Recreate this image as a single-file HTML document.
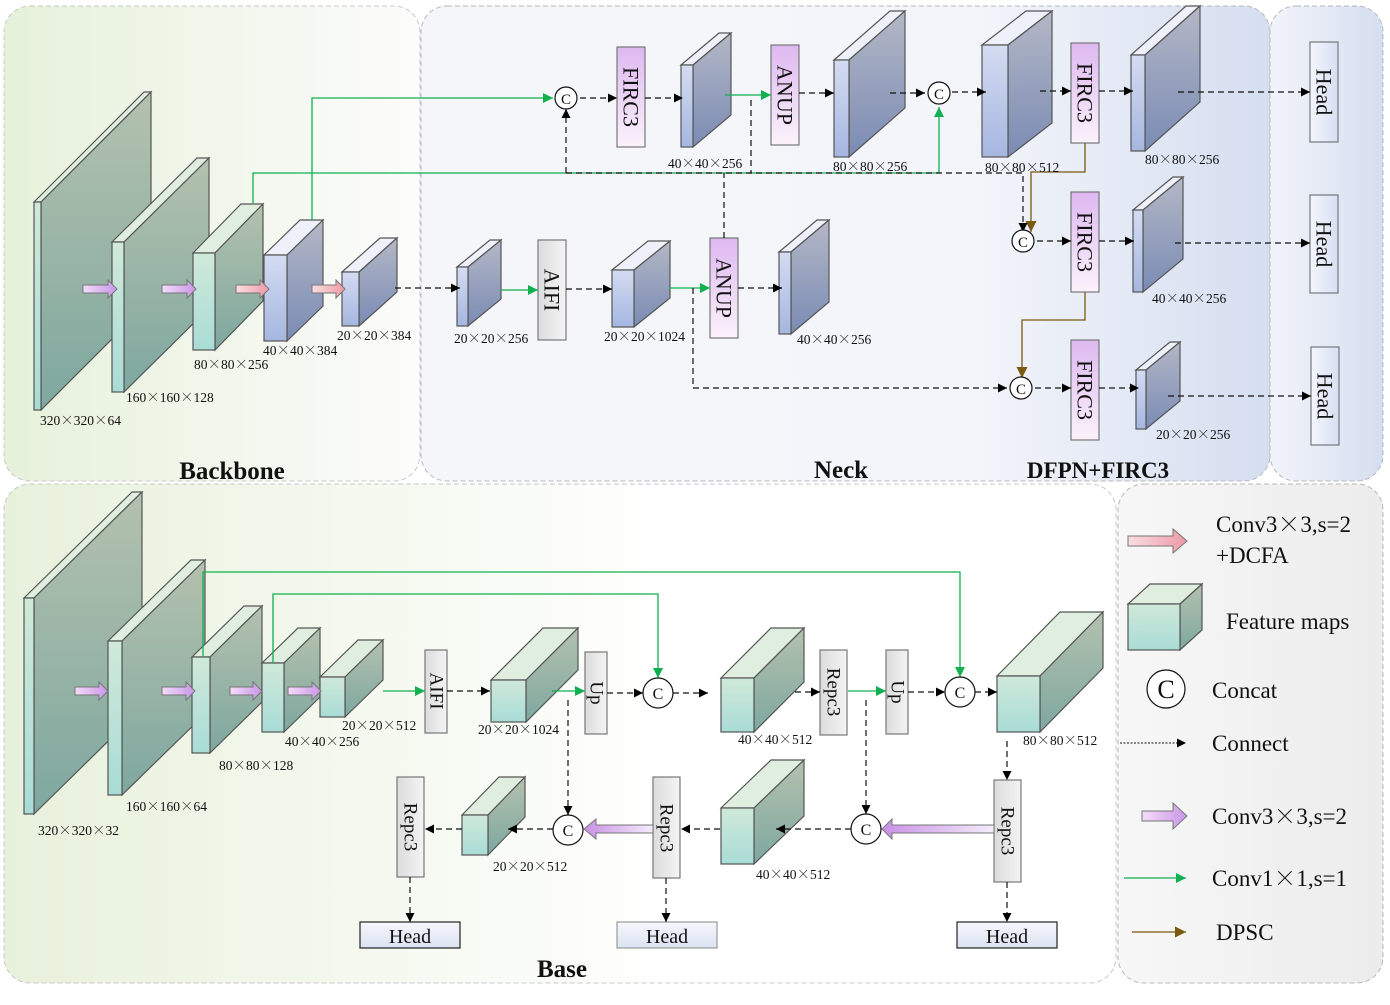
<!DOCTYPE html>
<html><head><meta charset="utf-8"><style>
html,body{margin:0;padding:0;background:#fff}
svg{display:block}
text{font-family:"Liberation Serif",serif;fill:#111}
.d{font-size:13.5px;font-family:"Liberation Serif","Noto Serif CJK SC",serif}
.x{font-family:"Noto Serif CJK SC","Noto Sans CJK SC",serif}
.v{font-size:22px}
.b{font-weight:bold;font-size:25px}
.lg{font-size:23px}
</style></head><body>
<svg width="1390" height="1005" viewBox="0 0 1390 1005" xmlns="http://www.w3.org/2000/svg">
<defs>
<linearGradient id="bbg" x1="0" x2="1" y1="0" y2="0"><stop offset="0" stop-color="#e6f1da"/><stop offset="1" stop-color="#fcfcfc"/></linearGradient>
<linearGradient id="nkg" x1="0" x2="1" y1="0" y2="0"><stop offset="0" stop-color="#f5f6fa"/><stop offset="0.65" stop-color="#f3f5fa"/><stop offset="1" stop-color="#d5def0"/></linearGradient>
<linearGradient id="hdg" x1="0" x2="1" y1="0" y2="0"><stop offset="0" stop-color="#f2f4fa"/><stop offset="1" stop-color="#d5def0"/></linearGradient>
<linearGradient id="bsg" x1="0" x2="1" y1="0" y2="0"><stop offset="0" stop-color="#e8f1dc"/><stop offset="0.6" stop-color="#ffffff"/><stop offset="1" stop-color="#ffffff"/></linearGradient>
<linearGradient id="lgg" x1="0" x2="1" y1="0" y2="0"><stop offset="0" stop-color="#f7f7f7"/><stop offset="1" stop-color="#ececec"/></linearGradient>
<linearGradient id="gf" x1="0" x2="0" y1="0" y2="1"><stop offset="0" stop-color="#cfe9d9"/><stop offset="1" stop-color="#a9dcd6"/></linearGradient>
<linearGradient id="gs" x1="0" x2="0" y1="0" y2="1"><stop offset="0" stop-color="#b4c1ae"/><stop offset="1" stop-color="#7ea89f"/></linearGradient>
<linearGradient id="bf" x1="0" x2="0" y1="0" y2="1"><stop offset="0" stop-color="#d4dcf2"/><stop offset="1" stop-color="#a5b6e0"/></linearGradient>
<linearGradient id="bs" x1="0" x2="0" y1="0" y2="1"><stop offset="0" stop-color="#b4b8c6"/><stop offset="1" stop-color="#7a8bb4"/></linearGradient>
<linearGradient id="pkv" x1="0" x2="0" y1="0" y2="1"><stop offset="0" stop-color="#ddb8f0"/><stop offset="1" stop-color="#fbf2fb"/></linearGradient>
<linearGradient id="gy" x1="0" x2="1"><stop offset="0" stop-color="#dcdcdc"/><stop offset="1" stop-color="#f4f4f4"/></linearGradient>
<linearGradient id="hb" x1="0" x2="1"><stop offset="0" stop-color="#f4f6fc"/><stop offset="1" stop-color="#d6dff2"/></linearGradient>
<linearGradient id="hbv" x1="0" x2="0" y1="0" y2="1"><stop offset="0" stop-color="#f6f7fb"/><stop offset="1" stop-color="#dbe2f2"/></linearGradient>
<linearGradient id="pa" x1="0" x2="1"><stop offset="0" stop-color="#f4dcfa"/><stop offset="1" stop-color="#c896e6"/></linearGradient>
<linearGradient id="pal" x1="1" x2="0"><stop offset="0" stop-color="#f4ecfa"/><stop offset="1" stop-color="#c890e6"/></linearGradient>
<linearGradient id="ra" x1="0" x2="1"><stop offset="0" stop-color="#f9dde2"/><stop offset="1" stop-color="#ee9aa6"/></linearGradient>
<marker id="ak" viewBox="0 0 10 10" refX="10" refY="5" markerWidth="9" markerHeight="9" markerUnits="userSpaceOnUse" orient="auto"><path d="M0,0 L10,5 L0,10z" fill="#000"/></marker>
<marker id="ag" viewBox="0 0 10 10" refX="10" refY="5" markerWidth="10" markerHeight="10" markerUnits="userSpaceOnUse" orient="auto"><path d="M0,0 L10,5 L0,10z" fill="#10b050"/></marker>
<marker id="ab" viewBox="0 0 10 10" refX="10" refY="5" markerWidth="11" markerHeight="11" markerUnits="userSpaceOnUse" orient="auto"><path d="M0,0 L10,5 L0,10z" fill="#7a5a10"/></marker>
</defs>

<rect x="4" y="6" width="416" height="475" rx="26" fill="url(#bbg)" stroke="#c8c8c8" stroke-dasharray="5,3"/>
<rect x="421" y="6" width="849" height="475" rx="26" fill="url(#nkg)" stroke="#b8b8c0" stroke-dasharray="5,3"/>
<rect x="1270" y="6" width="113" height="475" rx="26" fill="url(#hdg)" stroke="#b8b8c0" stroke-dasharray="5,3"/>
<rect x="4" y="484" width="1112" height="499" rx="26" fill="url(#bsg)" stroke="#c8c8c8" stroke-dasharray="5,3"/>
<rect x="1118" y="484" width="265" height="499" rx="26" fill="url(#lgg)" stroke="#b8b8b8" stroke-dasharray="5,3"/>

<g stroke="#555" stroke-width="1.2">
<polygon points="34,202 144,92 151,92 41,202" fill="#dfeede"/><polygon points="41,202 151,92 151,300 41,410" fill="url(#gs)"/><rect x="34" y="202" width="7" height="208" fill="url(#gf)"/>
<polygon points="112,242 197,158 209,158 124,242" fill="#dfeede"/><polygon points="124,242 209,158 209,308 124,392" fill="url(#gs)"/><rect x="112" y="242" width="12" height="150" fill="url(#gf)"/>
<polygon points="193,253 241,204 263,204 215,253" fill="#dfeede"/><polygon points="215,253 263,204 263,301 215,350" fill="url(#gs)"/><rect x="193" y="253" width="22" height="97" fill="url(#gf)"/>
<polygon points="264,255 300,220 323,220 287,255" fill="#eef0fa"/><polygon points="287,255 323,220 323,306 287,341" fill="url(#bs)"/><rect x="264" y="255" width="23" height="86" fill="url(#bf)"/>
<polygon points="342,272 380,238 397,238 359,272" fill="#eef0fa"/><polygon points="359,272 397,238 397,292 359,326" fill="url(#bs)"/><rect x="342" y="272" width="17" height="54" fill="url(#bf)"/>
<polygon points="457,267 490,240 501,240 468,267" fill="#eef0fa"/><polygon points="468,267 501,240 501,299 468,326" fill="url(#bs)"/><rect x="457" y="267" width="11" height="59" fill="url(#bf)"/>
<polygon points="612,270 648,241 670,241 634,270" fill="#eef0fa"/><polygon points="634,270 670,241 670,298 634,327" fill="url(#bs)"/><rect x="612" y="270" width="22" height="57" fill="url(#bf)"/>
<polygon points="779,252 817,220 829,220 791,252" fill="#eef0fa"/><polygon points="791,252 829,220 829,302 791,334" fill="url(#bs)"/><rect x="779" y="252" width="12" height="82" fill="url(#bf)"/>
<polygon points="681,65 719,33 731,33 693,65" fill="#eef0fa"/><polygon points="693,65 731,33 731,115 693,147" fill="url(#bs)"/><rect x="681" y="65" width="12" height="82" fill="url(#bf)"/>
<polygon points="834,60 890,11 905,11 849,60" fill="#eef0fa"/><polygon points="849,60 905,11 905,108 849,157" fill="url(#bs)"/><rect x="834" y="60" width="15" height="97" fill="url(#bf)"/>
<polygon points="982,45 1026,11 1052,11 1008,45" fill="#eef0fa"/><polygon points="1008,45 1052,11 1052,123 1008,157" fill="url(#bs)"/><rect x="982" y="45" width="26" height="112" fill="url(#bf)"/>
<polygon points="1131,55 1186,6 1200,6 1145,55" fill="#eef0fa"/><polygon points="1145,55 1200,6 1200,102 1145,151" fill="url(#bs)"/><rect x="1131" y="55" width="14" height="96" fill="url(#bf)"/>
<polygon points="1133,210 1173,177 1183,177 1143,210" fill="#eef0fa"/><polygon points="1143,210 1183,177 1183,259 1143,292" fill="url(#bs)"/><rect x="1133" y="210" width="10" height="82" fill="url(#bf)"/>
<polygon points="1136,370 1170,342 1180,342 1146,370" fill="#eef0fa"/><polygon points="1146,370 1180,342 1180,401 1146,429" fill="url(#bs)"/><rect x="1136" y="370" width="10" height="59" fill="url(#bf)"/>

<polygon points="24,598 132,492 142,492 34,598" fill="#dfeede"/><polygon points="34,598 142,492 142,708 34,814" fill="url(#gs)"/><rect x="24" y="598" width="10" height="216" fill="url(#gf)"/>
<polygon points="108,641 191,560 205,560 122,641" fill="#dfeede"/><polygon points="122,641 205,560 205,714 122,795" fill="url(#gs)"/><rect x="108" y="641" width="14" height="154" fill="url(#gf)"/>
<polygon points="192,657 244,606 262,606 210,657" fill="#dfeede"/><polygon points="210,657 262,606 262,702 210,753" fill="url(#gs)"/><rect x="192" y="657" width="18" height="96" fill="url(#gf)"/>
<polygon points="262,663 298,628 320,628 284,663" fill="#dfeede"/><polygon points="284,663 320,628 320,697 284,732" fill="url(#gs)"/><rect x="262" y="663" width="22" height="69" fill="url(#gf)"/>
<polygon points="320,677 358,640 383,640 345,677" fill="#dfeede"/><polygon points="345,677 383,640 383,680 345,717" fill="url(#gs)"/><rect x="320" y="677" width="25" height="40" fill="url(#gf)"/>
<polygon points="491,680 543,628 578,628 526,680" fill="#dfeede"/><polygon points="526,680 578,628 578,670 526,722" fill="url(#gs)"/><rect x="491" y="680" width="35" height="42" fill="url(#gf)"/>
<polygon points="721,678 771,628 804,628 754,678" fill="#dfeede"/><polygon points="754,678 804,628 804,682 754,732" fill="url(#gs)"/><rect x="721" y="678" width="33" height="54" fill="url(#gf)"/>
<polygon points="997,676 1060,612 1103,612 1040,676" fill="#dfeede"/><polygon points="1040,676 1103,612 1103,668 1040,732" fill="url(#gs)"/><rect x="997" y="676" width="43" height="56" fill="url(#gf)"/>
<polygon points="721,808 771,760 804,760 754,808" fill="#dfeede"/><polygon points="754,808 804,760 804,816 754,864" fill="url(#gs)"/><rect x="721" y="808" width="33" height="56" fill="url(#gf)"/>
<polygon points="462,815 499,777 525,777 488,815" fill="#dfeede"/><polygon points="488,815 525,777 525,817 488,855" fill="url(#gs)"/><rect x="462" y="815" width="26" height="40" fill="url(#gf)"/>
<polygon points="1128,604 1150,584 1202,584 1180,604" fill="#dfeede"/><polygon points="1180,604 1202,584 1202,630 1180,650" fill="url(#gs)"/><rect x="1128" y="604" width="52" height="46" fill="url(#gf)"/>
</g>

<g stroke="#777" stroke-width="1.2">
<rect x="617" y="47" width="28" height="100" fill="url(#pkv)"/>
<rect x="771" y="45" width="28" height="100" fill="url(#pkv)"/>
<rect x="710" y="238" width="28" height="100" fill="url(#pkv)"/>
<rect x="1071" y="43" width="28" height="100" fill="url(#pkv)"/>
<rect x="1071" y="192" width="28" height="100" fill="url(#pkv)"/>
<rect x="1071" y="340" width="28" height="100" fill="url(#pkv)"/>
<rect x="538" y="240" width="28" height="100" fill="url(#gy)"/>
<rect x="1310" y="42" width="28" height="100" fill="url(#hb)"/>
<rect x="1310" y="195" width="28" height="98" fill="url(#hb)"/>
<rect x="1311" y="347" width="28" height="98" fill="url(#hb)"/>
<rect x="425" y="650" width="22" height="83" fill="url(#gy)"/>
<rect x="585" y="652" width="22" height="82" fill="url(#gy)"/>
<rect x="820" y="650" width="27" height="85" fill="url(#gy)"/>
<rect x="886" y="650" width="22" height="84" fill="url(#gy)"/>
<rect x="994" y="780" width="27" height="102" fill="url(#gy)"/>
<rect x="653" y="777" width="27" height="101" fill="url(#gy)"/>
<rect x="397" y="777" width="27" height="100" fill="url(#gy)"/>
</g>
<g stroke="#222" stroke-width="1.2">
<rect x="360" y="922" width="100" height="26" fill="url(#hbv)"/>
<rect x="617" y="922" width="100" height="26" fill="url(#hbv)" stroke="#999"/>
<rect x="957" y="922" width="100" height="26" fill="url(#hbv)"/>
</g>
<g class="v">
<text transform="translate(631,97) rotate(90)" text-anchor="middle" dominant-baseline="central">FIRC3</text>
<text transform="translate(785,95) rotate(90)" text-anchor="middle" dominant-baseline="central">ANUP</text>
<text transform="translate(724,288) rotate(90)" text-anchor="middle" dominant-baseline="central">ANUP</text>
<text transform="translate(1085,93) rotate(90)" text-anchor="middle" dominant-baseline="central">FIRC3</text>
<text transform="translate(1085,242) rotate(90)" text-anchor="middle" dominant-baseline="central">FIRC3</text>
<text transform="translate(1085,390) rotate(90)" text-anchor="middle" dominant-baseline="central">FIRC3</text>
<text transform="translate(552,290) rotate(90)" text-anchor="middle" dominant-baseline="central">AIFI</text>
<text transform="translate(1324,92) rotate(90)" text-anchor="middle" dominant-baseline="central">Head</text>
<text transform="translate(1324,244) rotate(90)" text-anchor="middle" dominant-baseline="central">Head</text>
<text transform="translate(1325,396) rotate(90)" text-anchor="middle" dominant-baseline="central">Head</text>
</g>
<g style="font-size:19px">
<text transform="translate(436,691) rotate(90)" text-anchor="middle" dominant-baseline="central">AIFI</text>
<text transform="translate(596,693) rotate(90)" text-anchor="middle" dominant-baseline="central">Up</text>
<text transform="translate(833,692) rotate(90)" text-anchor="middle" dominant-baseline="central">Repc3</text>
<text transform="translate(897,692) rotate(90)" text-anchor="middle" dominant-baseline="central">Up</text>
<text transform="translate(1007,831) rotate(90)" text-anchor="middle" dominant-baseline="central">Repc3</text>
<text transform="translate(666,828) rotate(90)" text-anchor="middle" dominant-baseline="central">Repc3</text>
<text transform="translate(410,827) rotate(90)" text-anchor="middle" dominant-baseline="central">Repc3</text>
<text x="410" y="943" text-anchor="middle" style="font-size:20px">Head</text>
<text x="667" y="943" text-anchor="middle" style="font-size:20px">Head</text>
<text x="1007" y="943" text-anchor="middle" style="font-size:20px">Head</text>
</g>

<g stroke="#777" stroke-width="1">
<polygon points="83,285 108,285 108,280 117,289 108,298 108,293 83,293" fill="url(#pa)"/>
<polygon points="162,285 187,285 187,280 196,289 187,298 187,293 162,293" fill="url(#pa)"/>
<polygon points="236,285 260,285 260,280 269,289 260,298 260,293 236,293" fill="url(#ra)"/>
<polygon points="312,285 336,285 336,280 345,289 336,298 336,293 312,293" fill="url(#ra)"/>
<polygon points="75,687 99,687 99,682 108,691 99,700 99,695 75,695" fill="url(#pa)"/>
<polygon points="162,687 186,687 186,682 195,691 186,700 186,695 162,695" fill="url(#pa)"/>
<polygon points="230,687 253,687 253,682 262,691 253,700 253,695 230,695" fill="url(#pa)"/>
<polygon points="288,687 312,687 312,682 321,691 312,700 312,695 288,695" fill="url(#pa)"/>
<polygon points="994,825 892,825 892,819 882,829 892,839 892,833 994,833" fill="url(#pal)"/>
<polygon points="653,825 596,825 596,819 584,829 596,839 596,833 653,833" fill="url(#pal)"/>
<polygon points="1128,536 1173,536 1173,529 1187,541 1173,553 1173,546 1128,546" fill="url(#ra)"/>
<polygon points="1142,811 1173,811 1173,803 1187,816 1173,829 1173,821 1142,821" fill="url(#pa)"/>
</g>

<g fill="none" stroke="#10b050" stroke-width="1.3">
<path d="M253,204 V173 H939 V107" marker-end="url(#ag)"/>
<path d="M312,220 V98 H553" marker-end="url(#ag)"/>
<path d="M501,290 H538" marker-end="url(#ag)"/>
<path d="M670,288 H710" marker-end="url(#ag)"/>
<path d="M725,95 H771" marker-end="url(#ag)"/>
<path d="M203,657 V572 H960 V677" marker-end="url(#ag)"/>
<path d="M273,663 V594 H658 V678" marker-end="url(#ag)"/>
<path d="M383,691 H425" marker-end="url(#ag)"/>
<path d="M552,691 H585" marker-end="url(#ag)"/>
<path d="M848,691 H886" marker-end="url(#ag)"/>
<path d="M1124,878 H1186" marker-end="url(#ag)"/>
</g>
<g fill="none" stroke="#7a5a10" stroke-width="1.3">
<path d="M1085,143 V172 H1031 V232" marker-end="url(#ab)"/>
<path d="M1085,292 V320 H1022 V378" marker-end="url(#ab)"/>
<path d="M1132,932 H1186" marker-end="url(#ab)"/>
</g>
<g fill="none" stroke="#111" stroke-width="1.2" stroke-dasharray="6,4">
<path d="M395,288 H460" marker-end="url(#ak)"/>
<path d="M566,289 H612" marker-end="url(#ak)"/>
<path d="M738,288 H782" marker-end="url(#ak)"/>
<path d="M580,98 H617" marker-end="url(#ak)"/>
<path d="M645,98 H683" marker-end="url(#ak)"/>
<path d="M799,93 H834" marker-end="url(#ak)"/>
<path d="M890,93 H925" marker-end="url(#ak)"/>
<path d="M952,92 H986" marker-end="url(#ak)"/>
<path d="M1040,91 H1071" marker-end="url(#ak)"/>
<path d="M1099,91 H1133" marker-end="url(#ak)"/>
<path d="M1178,92 H1310" marker-end="url(#ak)"/>
<path d="M1175,243 H1310" marker-end="url(#ak)"/>
<path d="M1168,396 H1311" marker-end="url(#ak)"/>
<path d="M1037,241 H1071" marker-end="url(#ak)"/>
<path d="M1099,241 H1134" marker-end="url(#ak)"/>
<path d="M1035,388 H1071" marker-end="url(#ak)"/>
<path d="M1099,388 H1139" marker-end="url(#ak)"/>
<path d="M566,173 H1023 V232" marker-end="url(#ak)"/>
<path d="M566,173 V109" marker-end="url(#ak)"/>
<path d="M724,238 V173"/>
<path d="M751,100 V173"/>
<path d="M693,288 V388 H1007" marker-end="url(#ak)"/>
<path d="M447,691 H490" marker-end="url(#ak)"/>
<path d="M607,693 H643" marker-end="url(#ak)"/>
<path d="M673,693 H708" marker-end="url(#ak)"/>
<path d="M795,692 H820" marker-end="url(#ak)"/>
<path d="M908,692 H945" marker-end="url(#ak)"/>
<path d="M975,692 H997" marker-end="url(#ak)"/>
<path d="M568,700 V815" marker-end="url(#ak)"/>
<path d="M866,700 V814" marker-end="url(#ak)"/>
<path d="M1007,741 V780" marker-end="url(#ak)"/>
<path d="M851,829 H776" marker-end="url(#ak)"/>
<path d="M720,829 H681" marker-end="url(#ak)"/>
<path d="M553,829 H508" marker-end="url(#ak)"/>
<path d="M462,829 H425" marker-end="url(#ak)"/>
<path d="M1007,882 V922" marker-end="url(#ak)"/>
<path d="M666,878 V922" marker-end="url(#ak)"/>
<path d="M410,877 V922" marker-end="url(#ak)"/>
</g>
<path d="M1120,743 H1186" fill="none" stroke="#111" stroke-dasharray="2,1.5" marker-end="url(#ak)"/>

<g fill="#fff" stroke="#111" stroke-width="1.2">
<circle cx="566" cy="98" r="11"/><circle cx="939" cy="93" r="11"/><circle cx="1023" cy="241" r="11"/><circle cx="1021" cy="388" r="11"/>
<circle cx="658" cy="693" r="15"/><circle cx="960" cy="692" r="15"/><circle cx="866" cy="829" r="15"/><circle cx="568" cy="830" r="15"/>
<circle cx="1166" cy="689" r="19"/>
</g>
<g text-anchor="middle">
<text x="566" y="104" style="font-size:15px">C</text><text x="939" y="99" style="font-size:15px">C</text><text x="1023" y="247" style="font-size:15px">C</text><text x="1021" y="394" style="font-size:15px">C</text>
<text x="658" y="699" style="font-size:16px">C</text><text x="960" y="698" style="font-size:16px">C</text><text x="866" y="835" style="font-size:16px">C</text><text x="568" y="836" style="font-size:16px">C</text>
<text x="1166" y="698" style="font-size:26px">C</text>
</g>

<g class="d">
<text x="40" y="425">320<tspan class="x">×</tspan>320<tspan class="x">×</tspan>64</text>
<text x="126" y="402">160<tspan class="x">×</tspan>160<tspan class="x">×</tspan>128</text>
<text x="194" y="369">80<tspan class="x">×</tspan>80<tspan class="x">×</tspan>256</text>
<text x="263" y="355">40<tspan class="x">×</tspan>40<tspan class="x">×</tspan>384</text>
<text x="337" y="340">20<tspan class="x">×</tspan>20<tspan class="x">×</tspan>384</text>
<text x="454" y="343">20<tspan class="x">×</tspan>20<tspan class="x">×</tspan>256</text>
<text x="604" y="341">20<tspan class="x">×</tspan>20<tspan class="x">×</tspan>1024</text>
<text x="668" y="168">40<tspan class="x">×</tspan>40<tspan class="x">×</tspan>256</text>
<text x="833" y="171">80<tspan class="x">×</tspan>80<tspan class="x">×</tspan>256</text>
<text x="985" y="172">80<tspan class="x">×</tspan>80<tspan class="x">×</tspan>512</text>
<text x="1145" y="164">80<tspan class="x">×</tspan>80<tspan class="x">×</tspan>256</text>
<text x="1152" y="303">40<tspan class="x">×</tspan>40<tspan class="x">×</tspan>256</text>
<text x="797" y="344">40<tspan class="x">×</tspan>40<tspan class="x">×</tspan>256</text>
<text x="1156" y="439">20<tspan class="x">×</tspan>20<tspan class="x">×</tspan>256</text>
<text x="38" y="835">320<tspan class="x">×</tspan>320<tspan class="x">×</tspan>32</text>
<text x="126" y="811">160<tspan class="x">×</tspan>160<tspan class="x">×</tspan>64</text>
<text x="219" y="770">80<tspan class="x">×</tspan>80<tspan class="x">×</tspan>128</text>
<text x="285" y="746">40<tspan class="x">×</tspan>40<tspan class="x">×</tspan>256</text>
<text x="342" y="730">20<tspan class="x">×</tspan>20<tspan class="x">×</tspan>512</text>
<text x="478" y="734">20<tspan class="x">×</tspan>20<tspan class="x">×</tspan>1024</text>
<text x="738" y="744">40<tspan class="x">×</tspan>40<tspan class="x">×</tspan>512</text>
<text x="1023" y="745">80<tspan class="x">×</tspan>80<tspan class="x">×</tspan>512</text>
<text x="493" y="871">20<tspan class="x">×</tspan>20<tspan class="x">×</tspan>512</text>
<text x="756" y="879">40<tspan class="x">×</tspan>40<tspan class="x">×</tspan>512</text>
</g>
<text class="b" x="232" y="479" text-anchor="middle">Backbone</text>
<text class="b" x="841" y="478" text-anchor="middle">Neck</text>
<text class="b" x="1098" y="478" text-anchor="middle" style="font-size:23px">DFPN+FIRC3</text>
<text class="b" x="562" y="977" text-anchor="middle">Base</text>

<g class="lg">
<text x="1216" y="532">Conv3<tspan class="x">×</tspan>3,s=2</text>
<text x="1216" y="563">+DCFA</text>
<text x="1226" y="629">Feature maps</text>
<text x="1212" y="698">Concat</text>
<text x="1212" y="751">Connect</text>
<text x="1212" y="824">Conv3<tspan class="x">×</tspan>3,s=2</text>
<text x="1212" y="886">Conv1<tspan class="x">×</tspan>1,s=1</text>
<text x="1216" y="940">DPSC</text>
</g>
</svg>
</body></html>
